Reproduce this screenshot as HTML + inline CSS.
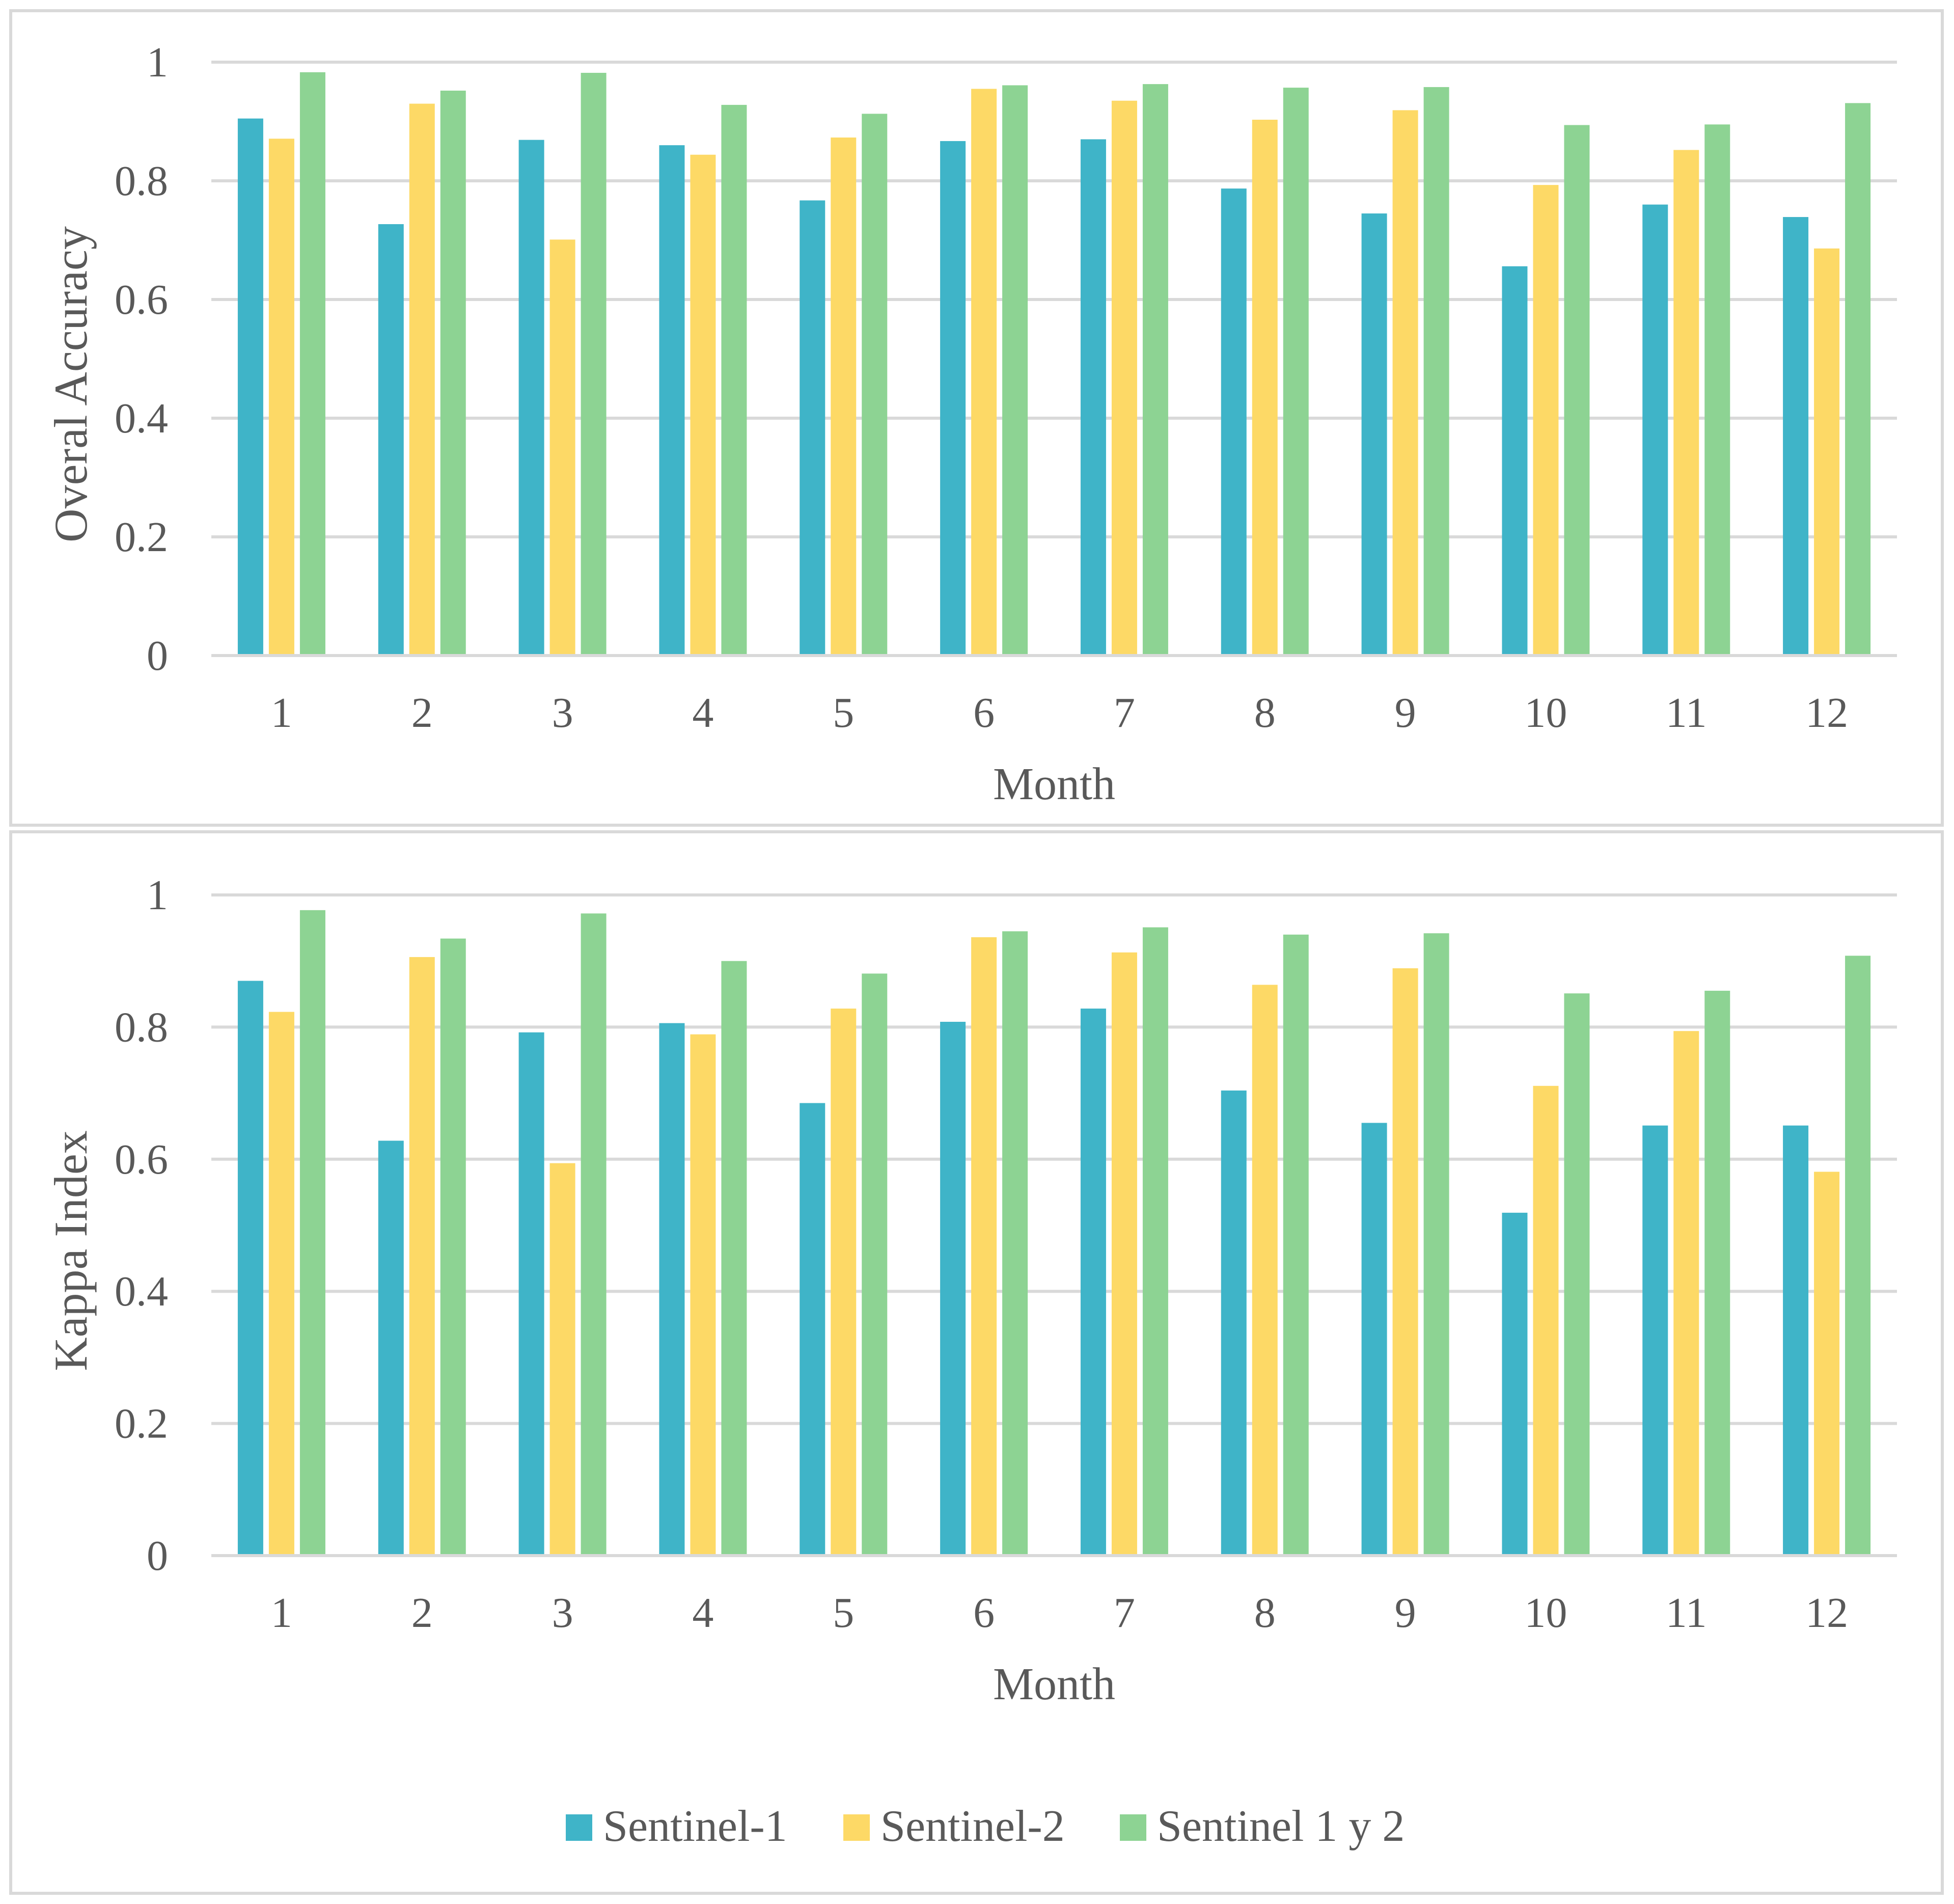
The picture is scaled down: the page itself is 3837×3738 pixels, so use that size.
<!DOCTYPE html>
<html><head><meta charset="utf-8"><style>
html,body{margin:0;padding:0;background:#fff;}
svg{display:block;}
text{font-family:"Liberation Serif",serif;fill:#595959;}
</style></head><body>
<svg id="chart" width="3837" height="3738" viewBox="0 0 3837 3738" xmlns="http://www.w3.org/2000/svg">
<rect x="21" y="21" width="3793" height="1599" fill="none" stroke="#D9D9D9" stroke-width="6"/>
<rect x="21" y="1633" width="3793" height="2084" fill="none" stroke="#D9D9D9" stroke-width="6"/>
<g id="top"></g>
<g id="bottom"></g>
<g>
 <rect x="1111" y="3562" width="52" height="52" fill="#3FB4C8"/>
 <text x="1184" y="3614" font-size="88">Sentinel-1</text>
 <rect x="1656" y="3562" width="52" height="52" fill="#FDD966"/>
 <text x="1729" y="3614" font-size="88">Sentinel-2</text>
 <rect x="2199" y="3562" width="52" height="52" fill="#8DD393"/>
 <text x="2272" y="3614" font-size="88">Sentinel 1 y 2</text>
</g>
</svg>
<script>
const months = ["1","2","3","4","5","6","7","8","9","10","11","12"];
const yTicks = [0,0.2,0.4,0.6,0.8,1];
const yTickLabels = ["0","0.2","0.4","0.6","0.8","1"];
const seriesNames = ["sentinel-1","sentinel-2","sentinel-1-y-2"];
const oaS1 = [0.905,0.727,0.869,0.860,0.767,0.867,0.870,0.787,0.745,0.656,0.760,0.739];
const oaS2 = [0.871,0.930,0.701,0.844,0.873,0.955,0.935,0.903,0.919,0.793,0.852,0.686];
const oaS12 = [0.983,0.952,0.982,0.928,0.913,0.961,0.963,0.957,0.958,0.894,0.895,0.931];
const kS1 = [0.870,0.628,0.792,0.806,0.685,0.808,0.828,0.704,0.655,0.519,0.651,0.651];
const kS2 = [0.823,0.906,0.594,0.789,0.828,0.936,0.913,0.864,0.889,0.711,0.794,0.581];
const kS12 = [0.977,0.934,0.972,0.900,0.881,0.945,0.951,0.940,0.942,0.851,0.855,0.908];
const colors = ["#3FB4C8","#FDD966","#8DD393"];
const NS="http://www.w3.org/2000/svg";
function mk(tag,attrs,parent){const e=document.createElementNS(NS,tag);for(const k in attrs)e.setAttribute(k,attrs[k]);parent.appendChild(e);return e;}
function draw(gid,series,y1,y0,title,prefix){
  const g=document.getElementById(gid);
  const x0=415,x1=3725,gw=(x1-x0)/months.length;
  const yS=v=>y0-(y0-y1)*v;
  const xC=i=>x0+gw*(i+0.5);
  yTicks.forEach((t,i)=>{
    const l=mk('line',{x1:x0,x2:x1,y1:yS(t),y2:yS(t),stroke:'#D9D9D9','stroke-width':6},g);
    
    
    const tx=mk('text',{x:330,y:yS(t)+28,'font-size':84,'text-anchor':'end'},g);
    tx.textContent=yTickLabels[i];
    
    
  });
  series.forEach((arr,s)=>{
    arr.forEach((v,i)=>{
      const cx=xC(i)+(s-1)*61;
      const r=mk('rect',{x:cx-25,y:yS(v),width:50,height:y0-yS(v)-3,fill:colors[s]},g);
      
      
    });
  });
  months.forEach((m,i)=>{
    const t=mk('text',{x:xC(i),y:y0+140,'font-size':84,'text-anchor':'middle'},g);
    t.textContent=m;
    
    
  });
  const xt=mk('text',{x:(x0+x1)/2,y:y0+282,'font-size':90,'text-anchor':'middle'},g);
  xt.textContent='Month';
  
  
  const cy=(y0+y1)/2+50;
  const yt=mk('text',{x:0,y:0,'font-size':92,'text-anchor':'middle',transform:'translate(170,'+cy+') rotate(-90)'},g);
  yt.textContent=title;
  
  
}
draw('top',[oaS1,oaS2,oaS12],122,1287,'Overal Accuracy','oa');
draw('bottom',[kS1,kS2,kS12],1757,3054,'Kappa Index','kappa');
</script>
</body></html>
